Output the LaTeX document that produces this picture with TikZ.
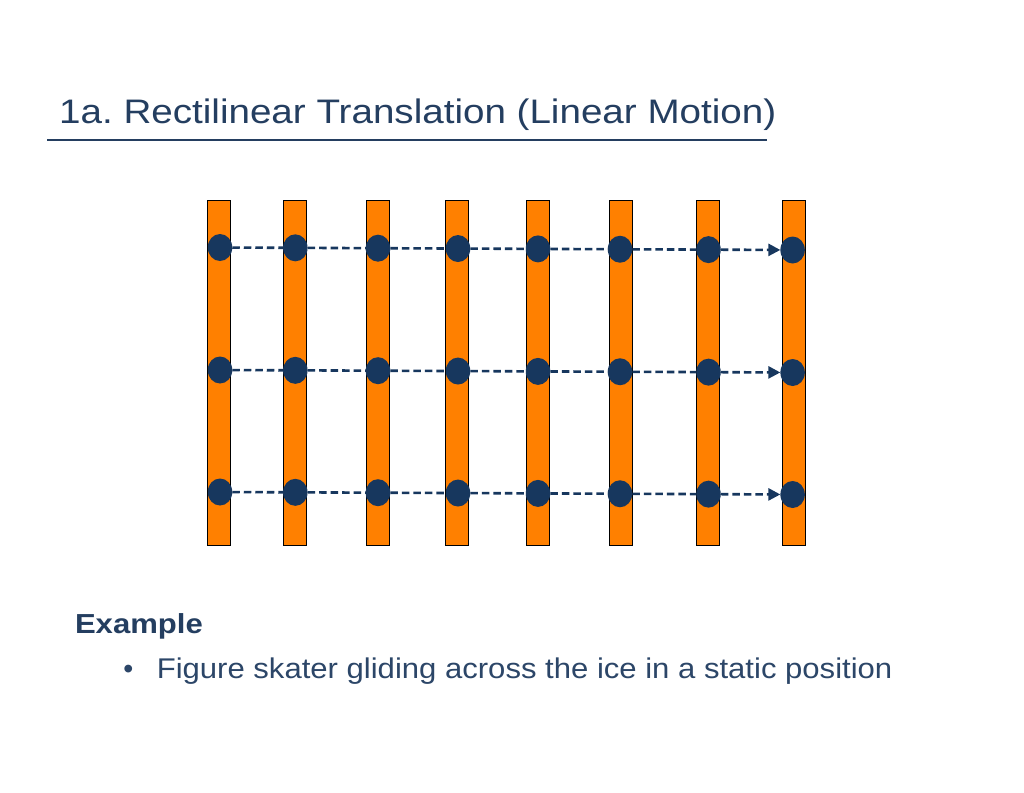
\documentclass[tikz,border=0pt]{standalone}
\usepackage{fontspec}
\usepackage{graphicx}
\setmainfont{Liberation Sans}
\frenchspacing
\usetikzlibrary{shapes.geometric,arrows.meta}
\definecolor{navy}{RGB}{23,55,94}
\definecolor{txt}{RGB}{36,62,96}
\definecolor{bodytxt}{RGB}{44,70,104}
\definecolor{barorange}{RGB}{255,128,0}
\begin{document}
\begin{tikzpicture}[x=1pt,y=-1pt,
  bar/.style={draw=black,line width=0.8pt,fill=barorange,minimum width=23pt,minimum height=345pt,inner sep=0pt,outer sep=0pt},
  dot/.style={ellipse,fill=navy,minimum width=24.5pt,minimum height=27pt,inner sep=0pt,outer sep=0pt},
  link/.style={draw=navy,line width=2.6pt,dash pattern=on 7.5pt off 4pt},
  endlink/.style={link,-{Triangle[length=12pt,width=12pt]}},
  txtnode/.style={anchor=base west,inner sep=0pt,outer sep=0pt,text=txt}]
\path[fill=white,use as bounding box] (0,0) rectangle (1024,792);
% bars
\foreach \i/\x in {1/218.8,2/294.8,3/377.8,4/457,5/537.5,6/620.8,7/707.8,8/794}
  \node[bar] (b\i) at (\x,372.5) {};
% dots
\foreach \i/\x in {1/220,2/295.3,3/378,4/458,5/538,6/620,7/708.5,8/792.6}{
  \pgfmathsetmacro{\dy}{(\x-220)/572.6*2.5}
  \node[dot] (d\i-1) at (\x,247.5+\dy) {};
  \node[dot] (d\i-2) at (\x,370+\dy) {};
  \node[dot] (d\i-3) at (\x,492+\dy) {};
}
% connectors
\foreach \r in {1,2,3}{
  \foreach \i/\j in {1/2,2/3,3/4,4/5,5/6,6/7}
    \draw[link] (d\i-\r) -- (d\j-\r);
  \draw[endlink] (d7-\r) -- (d8-\r);
}
% title
\node[txtnode] (title) at (59.2,123.3) {\fontsize{34}{40}\selectfont\scalebox{1.135}[1]{1a. Rectilinear Translation (Linear Motion)}};
\coordinate (ul1) at (47,140);
\coordinate (ul2) at (767,140);
\draw[txt,line width=2.5pt] (ul1) -- (ul2);
% text
\node[txtnode] (ex) at (75,633.3) {\fontsize{27.5}{33}\selectfont\bfseries\scalebox{1.13}[1]{Example}};
\node[txtnode,text=bodytxt] (bul) at (123.4,678) {\fontsize{28.5}{34}\selectfont •};
\node[txtnode,text=bodytxt] (body) at (156.8,678) {\fontsize{28.5}{34}\selectfont\scalebox{1.09}[1]{Figure skater gliding across the ice in a static position}};
\end{tikzpicture}
\end{document}
